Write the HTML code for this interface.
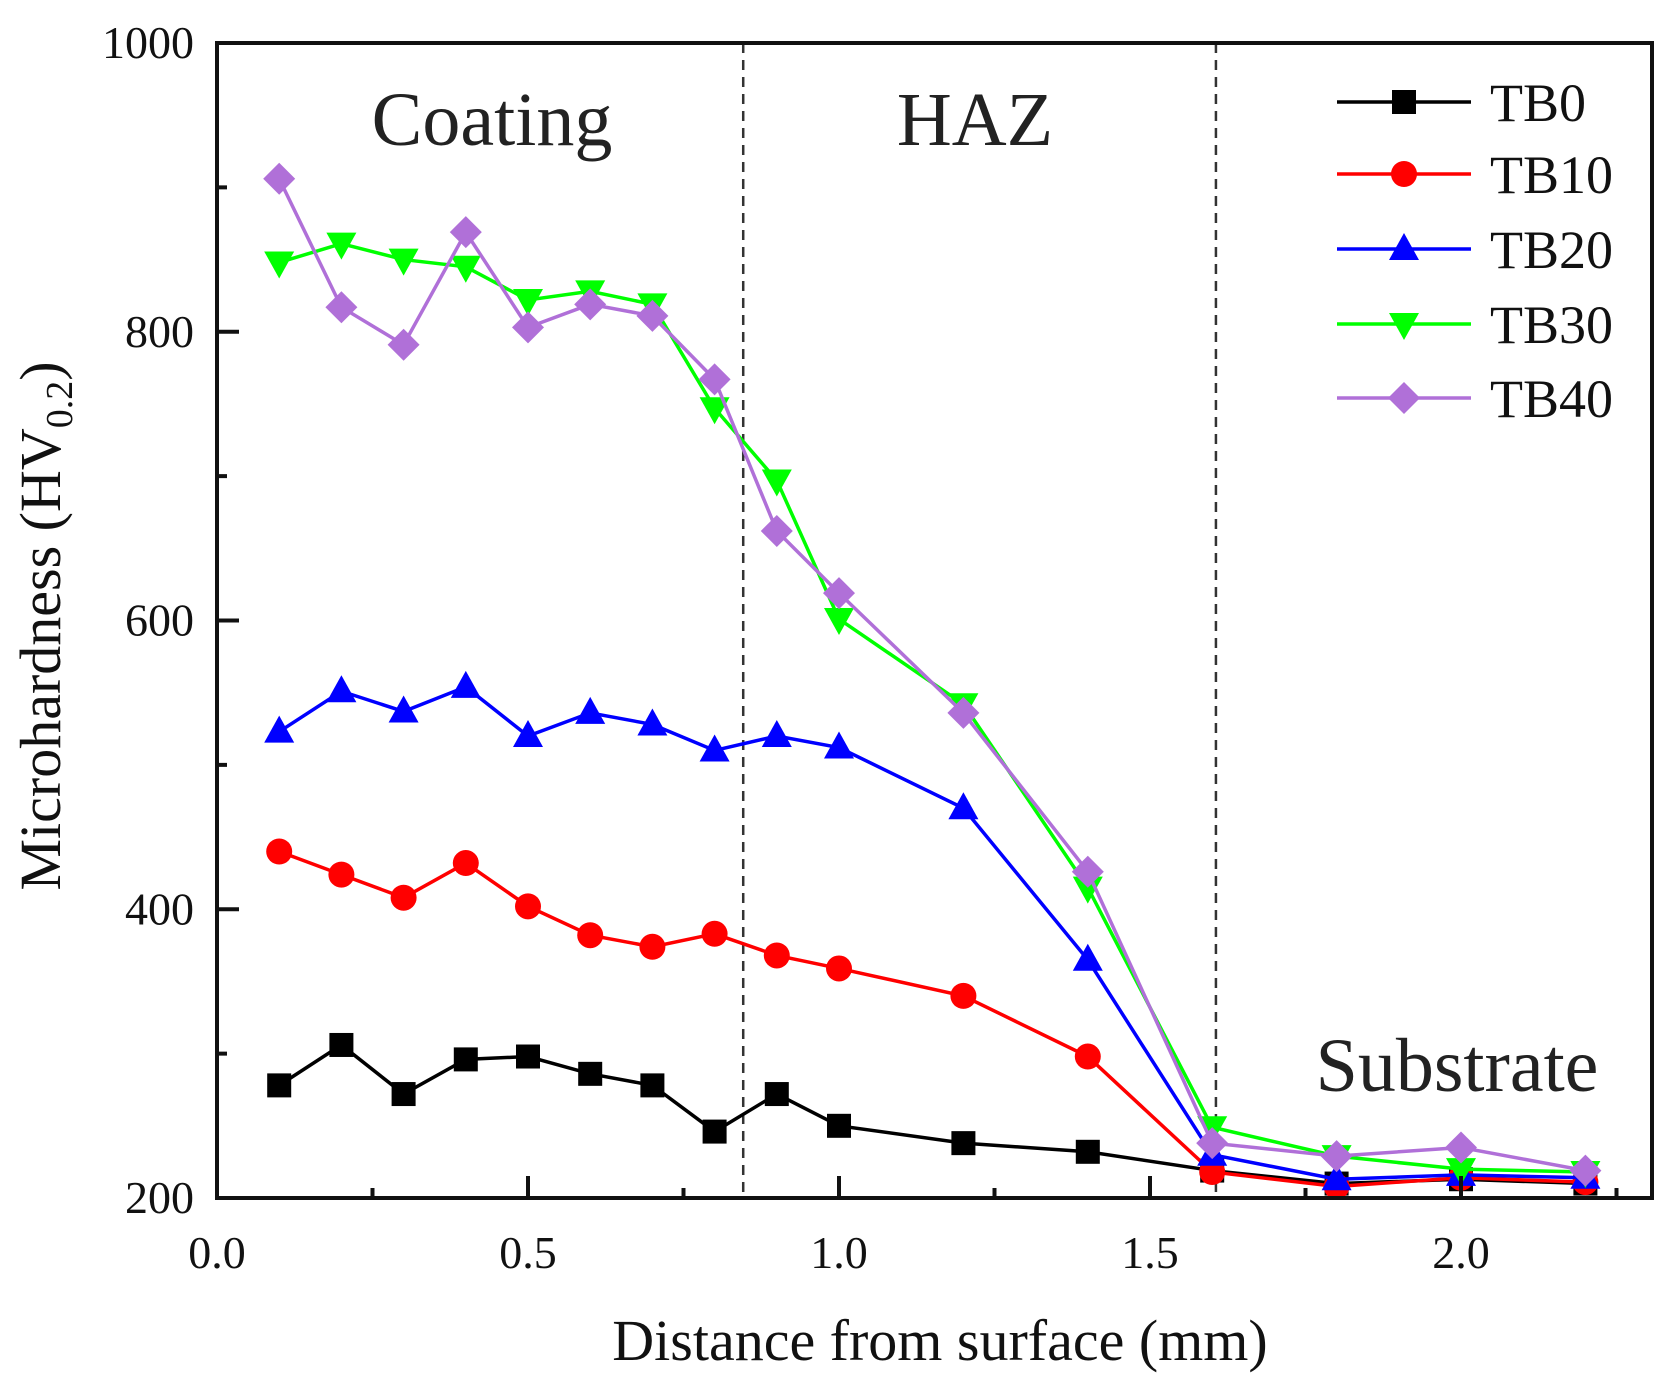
<!DOCTYPE html>
<html><head><meta charset="utf-8"><style>
html,body{margin:0;padding:0;background:#fff;}
svg{display:block;font-family:"Liberation Serif",serif;}
</style></head><body>
<svg id="c" width="1669" height="1389" xmlns="http://www.w3.org/2000/svg"></svg>
<script>
const L=217,R=1652,T=43,B=1198;
const X=v=>L+v*622, Y=v=>B-(v-200)*(B-T)/800;
let s='';
[0.846,1.606].forEach(v=>{s+=`<line x1="${X(v)}" y1="${T}" x2="${X(v)}" y2="${B}" stroke="#333" stroke-width="2.5" stroke-dasharray="10,7"/>`;});
const xs=[0.1,0.2,0.3,0.4,0.5,0.6,0.7,0.8,0.9,1.0,1.2,1.4,1.6,1.8,2.0,2.2];
const D={
TB0:[278,306,272,296,298,286,278,246,272,250,238,232,219,210,213,210],
TB10:[440,424,408,432,402,382,374,383,368,359,340,298,218,208,214,211],
TB20:[523,551,537,554,520,536,528,510,520,512,470,365,230,213,216,214],
TB30:[848,861,850,845,822,828,819,747,697,601,542,415,249,229,220,218],
TB40:[906,817,791,869,803,819,811,767,662,619,536,426,238,229,235,219]};
const C={TB0:'#000',TB10:'#f00',TB20:'#00f',TB30:'#0f0',TB40:'#b070d8'};
function mk(k,x,y){const c=C[k];
 if(k=='TB0')return `<rect x="${x-12}" y="${y-12}" width="24" height="24" fill="${c}"/>`;
 if(k=='TB10')return `<circle cx="${x}" cy="${y}" r="13" fill="${c}"/>`;
 if(k=='TB20')return `<polygon points="${x},${y-16} ${x+15},${y+11} ${x-15},${y+11}" fill="${c}"/>`;
 if(k=='TB30')return `<polygon points="${x},${y+16} ${x+15},${y-11} ${x-15},${y-11}" fill="${c}"/>`;
 return `<polygon points="${x},${y-16} ${x+16},${y} ${x},${y+16} ${x-16},${y}" fill="${c}"/>`;}
Object.keys(D).forEach(k=>{
 s+=`<polyline fill="none" stroke="${C[k]}" stroke-width="3.5" points="${xs.map((x,i)=>X(x)+','+Y(D[k][i])).join(' ')}"/>`;
 xs.forEach((x,i)=>s+=mk(k,X(x),Y(D[k][i])));
});
s+=`<rect x="${L}" y="${T}" width="${R-L}" height="${B-T}" fill="none" stroke="#111" stroke-width="4"/>`;
for(let v=200;v<=1000;v+=100){const y=Y(v),len=v%200?10:22;s+=`<line x1="${L}" y1="${y}" x2="${L+len}" y2="${y}" stroke="#111" stroke-width="4"/>`;
 if(v%200==0)s+=`<text x="194" y="${y+15}" font-size="46" text-anchor="end" fill="#111">${v}</text>`;}
for(let v=0.25;v<2.3;v+=0.25){const x=X(v),len=(Math.round(v*4)%2)?10:22;s+=`<line x1="${x}" y1="${B}" x2="${x}" y2="${B-len}" stroke="#111" stroke-width="4"/>`;}
[0,0.5,1,1.5,2].forEach(v=>s+=`<text x="${X(v)}" y="1268" font-size="46" text-anchor="middle" fill="#111">${v.toFixed(1)}</text>`);
s+=`<text x="940" y="1360" font-size="58" text-anchor="middle" fill="#111">Distance from surface (mm)</text>`;
s+=`<text transform="translate(60,626) rotate(-90)" font-size="58" text-anchor="middle" fill="#111">Microhardness (HV<tspan font-size="38" dy="12">0.2</tspan><tspan dy="-12">)</tspan></text>`;
s+=`<text x="492" y="145" font-size="76" text-anchor="middle" fill="#222">Coating</text>`;
s+=`<text x="975" y="145" font-size="76" text-anchor="middle" fill="#222">HAZ</text>`;
s+=`<text x="1457" y="1091" font-size="76" text-anchor="middle" fill="#222">Substrate</text>`;
const ly=[102,174,249,324,398];
Object.keys(D).forEach((k,i)=>{s+=`<line x1="1337" y1="${ly[i]}" x2="1471" y2="${ly[i]}" stroke="${C[k]}" stroke-width="3.5"/>`+mk(k,1404,ly[i])+`<text x="1490" y="${ly[i]+19}" font-size="54" fill="#111">${k}</text>`;});
document.getElementById('c').innerHTML=s;
</script>
</body></html>
